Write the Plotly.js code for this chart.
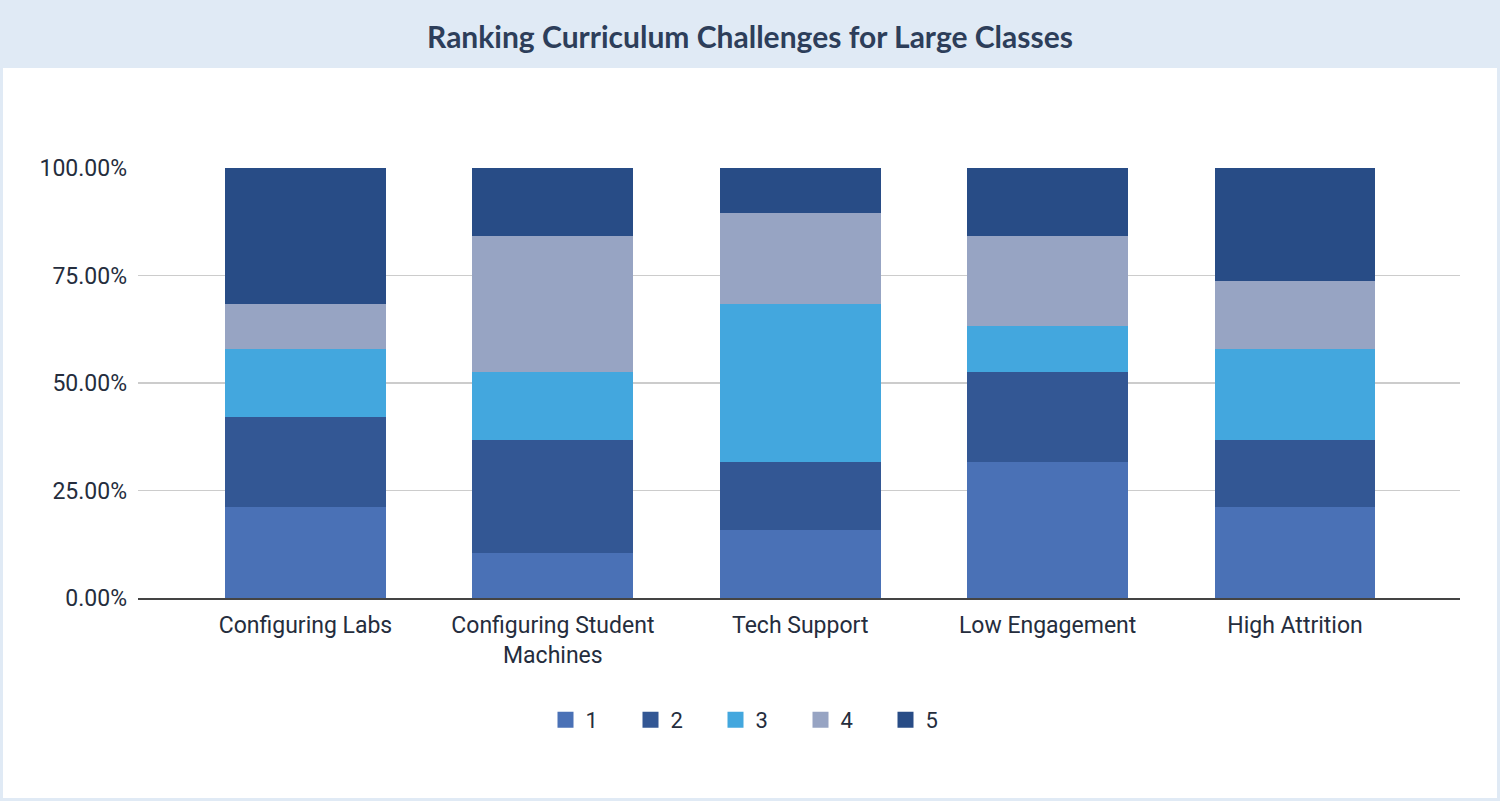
<!DOCTYPE html>
<html><head><meta charset="utf-8">
<script src="https://cdn.plot.ly/plotly-3.0.1.min.js"></script>
<style>html,body{margin:0;padding:0;background:#fff}#chart{width:1500px;height:801px}</style>
</head><body><div id="chart"></div>
<script>
const categories = ["Configuring Labs", "Configuring Student<br>Machines", "Tech Support", "Low Engagement", "High Attrition"];
const rank1 = [21.05, 10.53, 15.79, 31.58, 21.05];
const rank2 = [21.05, 26.32, 15.79, 21.05, 15.79];
const rank3 = [15.79, 15.79, 36.84, 10.53, 21.05];
const rank4 = [10.53, 31.58, 21.05, 21.05, 15.79];
const rank5 = [31.58, 15.79, 10.53, 15.79, 26.32];
const seriesNames = ["1", "2", "3", "4", "5"];
const tickVals = [0, 25, 50, 75, 100];
const tickText = ["0.00%", "25.00%", "50.00%", "75.00%", "100.00%"];

const colors = ["#4a71b6", "#335794", "#43a7de", "#97a4c3", "#284c86"];
const textColor = "#252d3d";
const series = [rank1, rank2, rank3, rank4, rank5];
const traces = series.map((vals, i) => ({
  type: "bar", x: categories, y: vals, name: seriesNames[i], legendgroup: seriesNames[i], showlegend: false,
  marker: {color: colors[i], line: {width: 0}}, width: 0.65,
  hovertemplate: "%{x}: %{y:.2f}%<extra>" + seriesNames[i] + "</extra>"
}));
// legend entries (larger square swatches)
seriesNames.forEach((n, i) => traces.push({
  type: "scatter", mode: "markers", x: [null], y: [null], name: n, legendgroup: n, showlegend: true,
  marker: {symbol: "square", size: 16, color: colors[i]}
}));

const plotL = 138, plotR = 1460, plotT = 168, plotB = 598, W = 1500, H = 801;
const pw = plotR - plotL, ph = plotB - plotT;
const px = v => (v - plotL) / pw;
const py = v => (plotB - v) / ph;

const layout = {
  width: W, height: H,
  margin: {l: plotL, r: W - plotR, t: plotT, b: H - plotB, pad: 0, autoexpand: false},
  paper_bgcolor: "#ffffff", plot_bgcolor: "#ffffff",
  barmode: "stack", bargap: 0.35,
  font: {family: "Roboto, sans-serif", color: textColor, size: 23},
  title: {text: "<b>Ranking Curriculum Challenges for Large Classes</b>",
    font: {family: "Lato, sans-serif", size: 30, color: "#2d3e5a"},
    x: 0.5, xref: "container", y: 1 - 37 / H, yref: "container", yanchor: "middle"},
  xaxis: {range: [-0.677, 4.667], showgrid: false, showline: true, linecolor: "#444444", linewidth: 1.5,
    ticks: "", tickangle: 0, ticklabelstandoff: 6, tickfont: {size: 23, color: textColor}, fixedrange: true, automargin: false},
  yaxis: {range: [0, 100], tickvals: tickVals, ticktext: tickText, showgrid: true, gridcolor: "#cccccc",
    gridwidth: 1.5, zeroline: false, showline: false, ticks: "", ticklabelstandoff: 10,
    tickfont: {size: 23, color: textColor}, fixedrange: true, automargin: false},
  legend: {orientation: "h", xref: "paper", x: px(758), xanchor: "center", y: py(720), yanchor: "middle",
    entrywidth: 40, entrywidthmode: "pixels", font: {size: 22, color: textColor}, traceorder: "normal"},
  shapes: [
    {type: "rect", xref: "paper", yref: "paper", layer: "below",
      x0: px(1.5), x1: px(W - 1.5), y0: py(H - 1.5), y1: py(1.5),
      line: {color: "#e0eaf5", width: 3}, fillcolor: "rgba(0,0,0,0)"},
    {type: "rect", xref: "paper", yref: "paper", layer: "below",
      x0: px(0), x1: px(W), y0: py(68), y1: py(0),
      line: {width: 0}, fillcolor: "#e0eaf5"}
  ],
  showlegend: true
};
Plotly.newPlot("chart", traces, layout, {displayModeBar: false, staticPlot: true});
</script></body></html>
